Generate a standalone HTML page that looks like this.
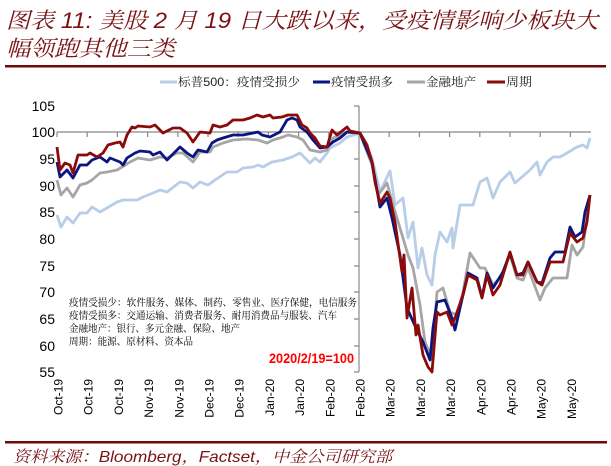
<!DOCTYPE html>
<html><head><meta charset="utf-8"><style>
html,body{margin:0;padding:0;background:#fff;}
svg{display:block;}
</style></head><body>
<svg width="611" height="466" viewBox="0 0 611 466" xmlns="http://www.w3.org/2000/svg">
<g font-family="'Liberation Sans','Noto Serif CJK SC',serif" fill="#7a1214" font-style="italic">
<text x="6" y="28" font-size="22" textLength="592" lengthAdjust="spacingAndGlyphs" font-family="'Liberation Sans','Noto Serif CJK SC',serif">图表 11: 美股 2 月 19 日大跌以来，受疫情影响少板块大</text>
<text x="6" y="56" font-size="22" textLength="169" lengthAdjust="spacingAndGlyphs" font-family="'Noto Serif CJK SC',serif">幅领跑其他三类</text>
</g>
<rect x="5" y="65" width="601" height="2.5" fill="#6e0a0c"/>
<!-- legend -->
<g font-family="'Liberation Sans','Noto Serif CJK SC',serif" font-size="12" fill="#222">
<line x1="160" y1="82" x2="177" y2="82" stroke="#b8cde8" stroke-width="3"/>
<text x="178" y="86" textLength="122" lengthAdjust="spacingAndGlyphs">标普500：疫情受损少</text>
<line x1="313" y1="82" x2="330" y2="82" stroke="#0a1580" stroke-width="3"/>
<text x="331" y="86" textLength="62" lengthAdjust="spacingAndGlyphs">疫情受损多</text>
<line x1="407" y1="82" x2="425" y2="82" stroke="#a6a6a6" stroke-width="3"/>
<text x="426" y="86" textLength="50" lengthAdjust="spacingAndGlyphs">金融地产</text>
<line x1="487" y1="82" x2="505" y2="82" stroke="#8b0a0a" stroke-width="3"/>
<text x="506" y="86" textLength="26" lengthAdjust="spacingAndGlyphs">周期</text>
</g>
<!-- y labels -->
<g font-family="'Liberation Sans',sans-serif" font-size="14" fill="#000" text-anchor="end">
<text x="55" y="111">105</text>
<text x="55" y="137">100</text>
<text x="55" y="164">95</text>
<text x="55" y="191">90</text>
<text x="55" y="217">85</text>
<text x="55" y="244">80</text>
<text x="55" y="271">75</text>
<text x="55" y="297">70</text>
<text x="55" y="324">65</text>
<text x="55" y="351">60</text>
<text x="55" y="377">55</text>
</g>
<!-- axes -->
<g stroke="#888" stroke-width="1.2" fill="none">
<line x1="57" y1="132" x2="591" y2="132"/>
<line x1="359" y1="106" x2="359" y2="372"/>
<path d="M57 132v5M87.2 132v5M117.4 132v5M147.6 132v5M177.8 132v5M208 132v5M238.2 132v5M268.4 132v5M298.6 132v5M328.8 132v5M389.2 132v5M419.4 132v5M449.6 132v5M479.8 132v5M510 132v5M540.2 132v5M570.4 132v5"/>
<path d="M354 106h5M354 159h5M354 186h5M354 212h5M354 239h5M354 266h5M354 292h5M354 319h5M354 346h5M354 372h5"/>
</g>
<!-- series -->
<g fill="none" stroke-width="2.8" stroke-linejoin="round">
<polyline stroke="#b8cde8" points="57,215 61,227 67,217 73,223 80,213 87,213 92,207 100,212 107,208 117,202 123,200 137,200 143,197 153,193 160,190 167,192 180,182 187,183 193,188 200,182 208,185 215,180 227,172 237,172 243,168 253,167 258,165 263,167 272,162 283,160 292,157 300,153 307,160 310,163 315,158 320,162 327,153 330,148 340,143 347,137 360,133 372,158 380,192 387,177 390,171 395,205 403,198 408,238 413,222 418,268 422,248 427,275 432,285 435,255 440,232 447,242 452,228 453,248 460,205 473,205 480,182 487,178 493,198 500,182 510,172 515,183 530,170 537,162 540,175 547,162 553,157 560,157 567,153 577,147 583,145 587,148 590,138"/>
<polyline stroke="#a6a6a6" points="57,180 61,195 67,188 73,197 80,185 87,183 92,180 100,173 107,172 117,170 122,167 130,162 138,158 150,160 160,157 167,158 177,153 183,153 193,162 200,152 210,152 213,147 223,143 233,140 247,139 258,140 267,143 273,140 283,137 288,135 297,137 303,140 310,150 320,152 327,150 333,138 347,132 360,134 372,165 378,195 387,183 393,205 403,238 408,255 413,268 420,305 425,342 432,358 437,292 443,288 450,312 457,315 463,292 470,253 480,268 485,268 493,285 500,278 510,255 517,278 523,280 528,268 540,300 545,288 553,278 567,278 572,245 577,255 583,247 588,210"/>
<polyline stroke="#0a1580" points="57,162 60,177 67,170 73,178 80,165 87,165 92,160 100,157 107,162 110,158 120,162 123,165 127,158 135,153 140,151 150,152 153,155 160,152 167,160 170,157 180,147 187,153 193,157 198,150 207,152 212,143 217,140 223,138 233,135 243,135 253,133 258,132 262,135 270,137 280,132 287,120 292,118 297,120 300,127 307,132 313,140 320,148 327,147 333,142 340,138 347,132 360,133 372,162 380,207 387,198 392,218 400,255 407,308 416,328 423,342 430,360 433,328 437,302 445,300 452,318 455,330 463,295 468,273 477,278 482,297 487,273 493,288 503,272 510,253 517,275 523,273 528,262 537,282 542,283 550,258 555,252 565,252 570,227 575,237 582,232 585,212 590,195"/>
<polyline stroke="#8b0a0a" points="57,147 60,170 65,163 70,165 73,173 78,155 87,155 90,153 97,157 103,153 108,145 115,143 120,142 123,147 127,135 132,127 135,128 138,126 150,127 155,125 163,133 173,128 180,128 187,133 193,142 200,132 210,133 213,125 220,127 227,125 233,120 243,120 250,118 257,115 263,117 270,115 273,118 282,117 288,115 297,115 302,125 307,128 310,133 315,138 320,146 327,147 332,130 337,135 347,127 350,131 360,133 367,145 372,162 375,182 380,203 387,192 390,198 395,222 402,272 404,255 407,318 412,288 416,335 418,325 423,355 428,367 432,372 437,312 440,315 447,312 452,325 455,318 463,295 468,275 477,280 482,298 487,275 493,295 500,285 510,252 517,275 523,275 528,262 537,282 542,285 550,262 555,262 563,262 570,233 577,242 583,238 587,222 590,195"/>
</g>
<!-- annotation -->
<g font-family="'Noto Serif CJK SC',serif" font-size="10" fill="#000">
<text x="69" y="306" textLength="288" lengthAdjust="spacingAndGlyphs">疫情受损少：软件服务、媒体、制药、零售业、医疗保健，电信服务</text>
<text x="69" y="319" textLength="268" lengthAdjust="spacingAndGlyphs">疫情受损多：交通运输、消费者服务、耐用消费品与服装、汽车</text>
<text x="69" y="332" textLength="171" lengthAdjust="spacingAndGlyphs">金融地产：银行、多元金融、保险、地产</text>
<text x="69" y="345" textLength="124" lengthAdjust="spacingAndGlyphs">周期：能源、原材料、资本品</text>
</g>
<text x="269" y="363" font-family="'Liberation Sans',sans-serif" font-size="13.5" font-weight="bold" fill="#ff0000" textLength="85" lengthAdjust="spacingAndGlyphs">2020/2/19=100</text>
<!-- x labels -->
<g font-family="'Liberation Sans',sans-serif" font-size="12" fill="#000" text-anchor="end">
<text transform="translate(62.5,379) rotate(-90)">Oct-19</text>
<text transform="translate(92.7,379) rotate(-90)">Oct-19</text>
<text transform="translate(122.9,379) rotate(-90)">Oct-19</text>
<text transform="translate(153.1,379) rotate(-90)">Nov-19</text>
<text transform="translate(183.3,379) rotate(-90)">Nov-19</text>
<text transform="translate(213.5,379) rotate(-90)">Dec-19</text>
<text transform="translate(243.7,379) rotate(-90)">Dec-19</text>
<text transform="translate(273.9,379) rotate(-90)">Jan-20</text>
<text transform="translate(304.1,379) rotate(-90)">Jan-20</text>
<text transform="translate(334.3,379) rotate(-90)">Feb-20</text>
<text transform="translate(364.5,379) rotate(-90)">Feb-20</text>
<text transform="translate(394.7,379) rotate(-90)">Mar-20</text>
<text transform="translate(424.9,379) rotate(-90)">Mar-20</text>
<text transform="translate(455.1,379) rotate(-90)">Mar-20</text>
<text transform="translate(485.3,379) rotate(-90)">Apr-20</text>
<text transform="translate(515.5,379) rotate(-90)">Apr-20</text>
<text transform="translate(545.7,379) rotate(-90)">May-20</text>
<text transform="translate(575.9,379) rotate(-90)">May-20</text>
</g>
<rect x="5" y="441" width="602" height="2.5" fill="#6e0a0c"/>
<text x="13" y="462" font-family="'Liberation Sans','Noto Serif CJK SC',serif" font-style="italic" font-size="16" fill="#7a1214" textLength="379" lengthAdjust="spacingAndGlyphs">资料来源：Bloomberg，Factset，中金公司研究部</text>
</svg>
</body></html>
